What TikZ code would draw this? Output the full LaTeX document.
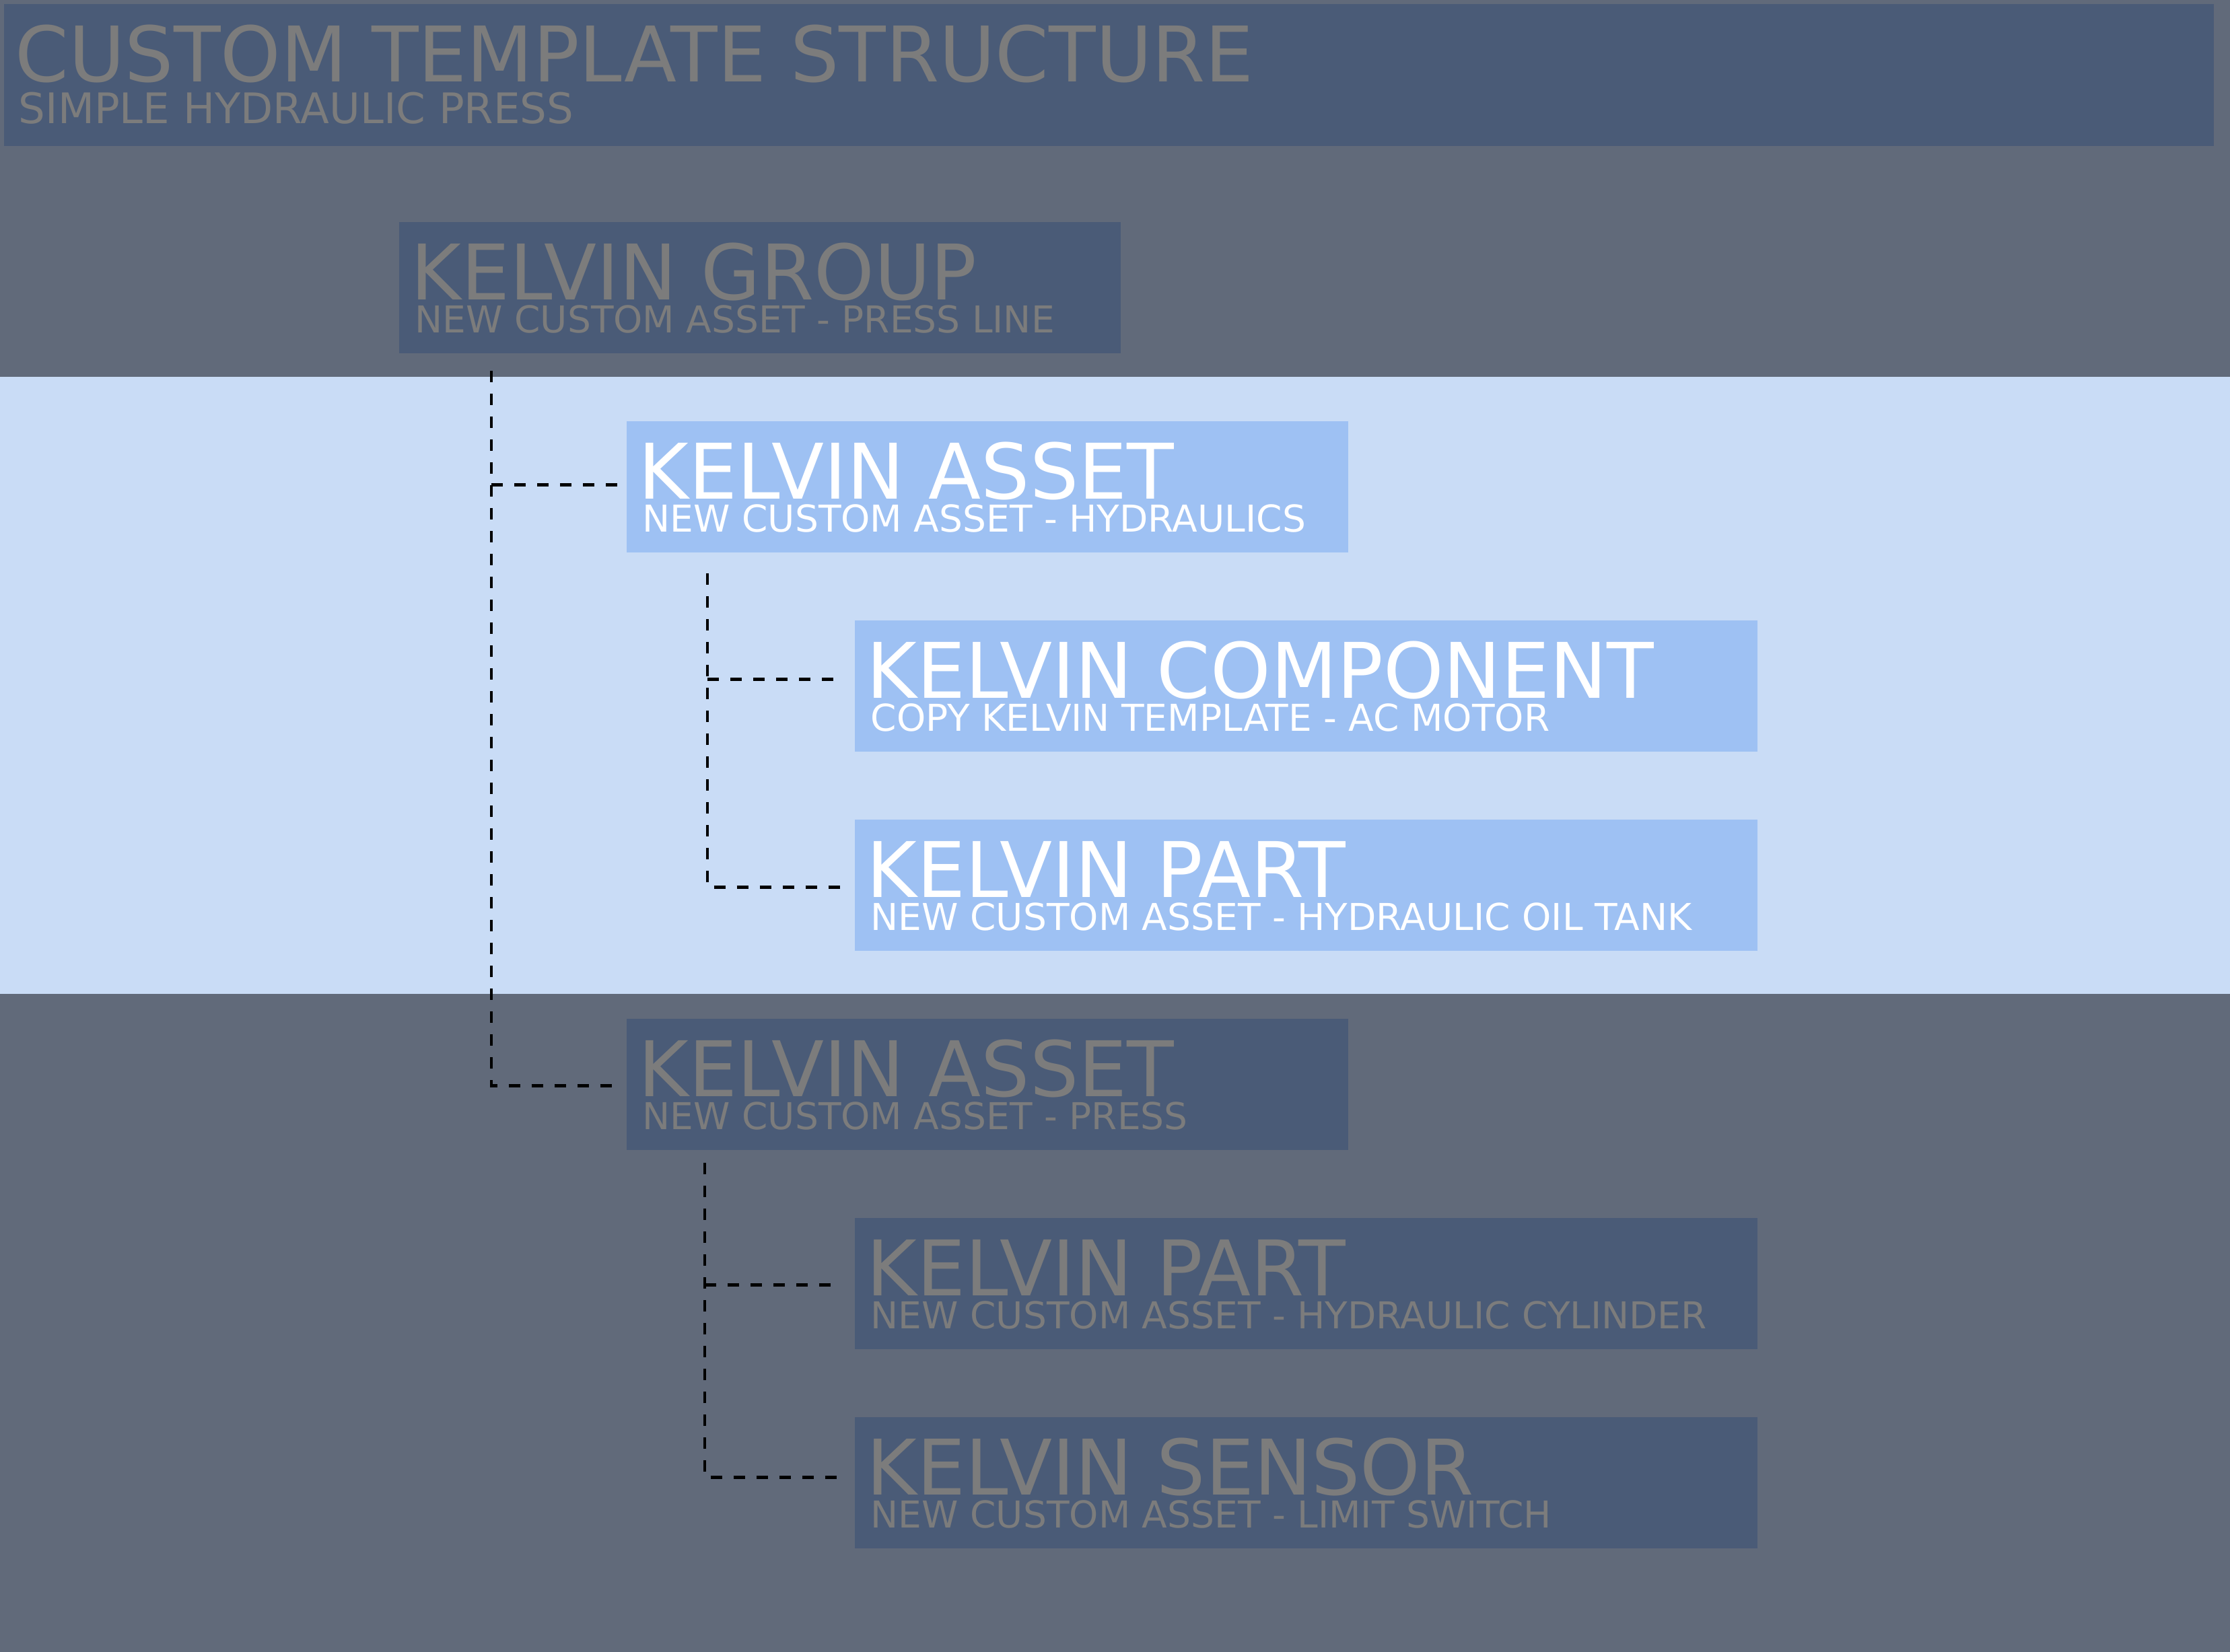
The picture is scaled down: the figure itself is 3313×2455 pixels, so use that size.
\documentclass[tikz,border=0pt]{standalone}
\usepackage{fontspec}
\setmainfont{DejaVu Sans}
\usetikzlibrary{calc}
\definecolor{bggray}{HTML}{616A7A}
\definecolor{darkbox}{HTML}{4A5B77}
\definecolor{graytext}{HTML}{7C7C7C}
\definecolor{lightband}{HTML}{C9DCF6}
\definecolor{lightbox}{HTML}{9EC1F3}
\tikzset{
  bigbox/.style={rectangle, inner sep=0pt, outer sep=0pt, anchor=north west, minimum width=268pt, minimum height=48.75pt},
  smallbox/.style={rectangle, inner sep=0pt, outer sep=0pt, anchor=north west, minimum width=335.25pt, minimum height=48.75pt},
  darkfill/.style={fill=darkbox},
  lightfill/.style={fill=lightbox},
  bigtext/.style={inner sep=0pt, anchor=base west, font=\fontsize{28.5pt}{33pt}\selectfont},
  subtext/.style={inner sep=0pt, anchor=base west, font=\fontsize{13.75pt}{16pt}\selectfont},
  topsub/.style={inner sep=0pt, anchor=base west, font=\fontsize{15.65pt}{18pt}\selectfont},
  conn/.style={draw=black, line width=1.05pt, dash pattern=on 4.25pt off 4.25pt},
}
\begin{document}
\begin{tikzpicture}[x=0.25pt, y=-0.25pt]
\useasboundingbox (0,0) rectangle (3313,2455);
\fill[bggray] (0,0) rectangle (3313,2455);
\fill[lightband] (0,560) rectangle (3313,1477);
% title bar
\fill[darkbox] (6,6) rectangle (3289,217);
\node[bigtext, text=graytext] (title) at (22,121) {CUSTOM TEMPLATE STRUCTURE};
\node[topsub, text=graytext] (subtitle) at (27,183) {SIMPLE HYDRAULIC PRESS};
% boxes
\node[bigbox, darkfill] (grp) at (593,330) {};
\node[bigbox, lightfill] (asset1) at (931,626) {};
\node[smallbox, lightfill] (comp) at (1270,922) {};
\node[smallbox, lightfill] (part) at (1270,1218) {};
\node[bigbox, darkfill] (asset2) at (931,1514) {};
\node[smallbox, darkfill] (part2) at (1270,1810) {};
\node[smallbox, darkfill] (sensor) at (1270,2106) {};
% texts
\node[bigtext, text=graytext] (grpt) at ($(grp.north west)+(17,115)$) {KELVIN GROUP};
\node[subtext, text=graytext] (grps) at ($(grp.north west)+(23,164)$) {NEW CUSTOM ASSET - PRESS LINE};
\node[bigtext, text=white] (asset1t) at ($(asset1.north west)+(17,115)$) {KELVIN ASSET};
\node[subtext, text=white] (asset1s) at ($(asset1.north west)+(23,164)$) {NEW CUSTOM ASSET - HYDRAULICS};
\node[bigtext, text=white] (compt) at ($(comp.north west)+(17,115)$) {KELVIN COMPONENT};
\node[subtext, text=white] (comps) at ($(comp.north west)+(23,164)$) {COPY KELVIN TEMPLATE - AC MOTOR};
\node[bigtext, text=white] (partt) at ($(part.north west)+(17,115)$) {KELVIN PART};
\node[subtext, text=white] (parts) at ($(part.north west)+(23,164)$) {NEW CUSTOM ASSET - HYDRAULIC OIL TANK};
\node[bigtext, text=graytext] (asset2t) at ($(asset2.north west)+(17,115)$) {KELVIN ASSET};
\node[subtext, text=graytext] (asset2s) at ($(asset2.north west)+(23,164)$) {NEW CUSTOM ASSET - PRESS};
\node[bigtext, text=graytext] (part2t) at ($(part2.north west)+(17,115)$) {KELVIN PART};
\node[subtext, text=graytext] (part2s) at ($(part2.north west)+(23,164)$) {NEW CUSTOM ASSET - HYDRAULIC CYLINDER};
\node[bigtext, text=graytext] (sensort) at ($(sensor.north west)+(17,115)$) {KELVIN SENSOR};
\node[subtext, text=graytext] (sensors) at ($(sensor.north west)+(23,164)$) {NEW CUSTOM ASSET - LIMIT SWITCH};
% connectors
\coordinate (t1) at ($(grp.south west)+(137,26)$);
\coordinate (t2) at ($(asset1.south west)+(120,31)$);
\coordinate (t3) at ($(asset2.south west)+(116,19)$);
\draw[conn] (t1) |- ($(asset2.west)+(-12,2)$);
\draw[conn] ($(t1 |- asset1.west)+(0,-3)$) -- ($(asset1.west)+(-12,-3)$);
\draw[conn] (t2) |- ($(part.west)+(-16,3)$);
\draw[conn] ($(t2 |- comp.west)+(0,-10)$) -- ($(comp.west)+(-16,-10)$);
\draw[conn] (t3) |- ($(sensor.west)+(-20,-8)$);
\draw[conn] ($(t3 |- part2.west)+(0,2)$) -- ($(part2.west)+(-20,2)$);
\end{tikzpicture}
\end{document}
